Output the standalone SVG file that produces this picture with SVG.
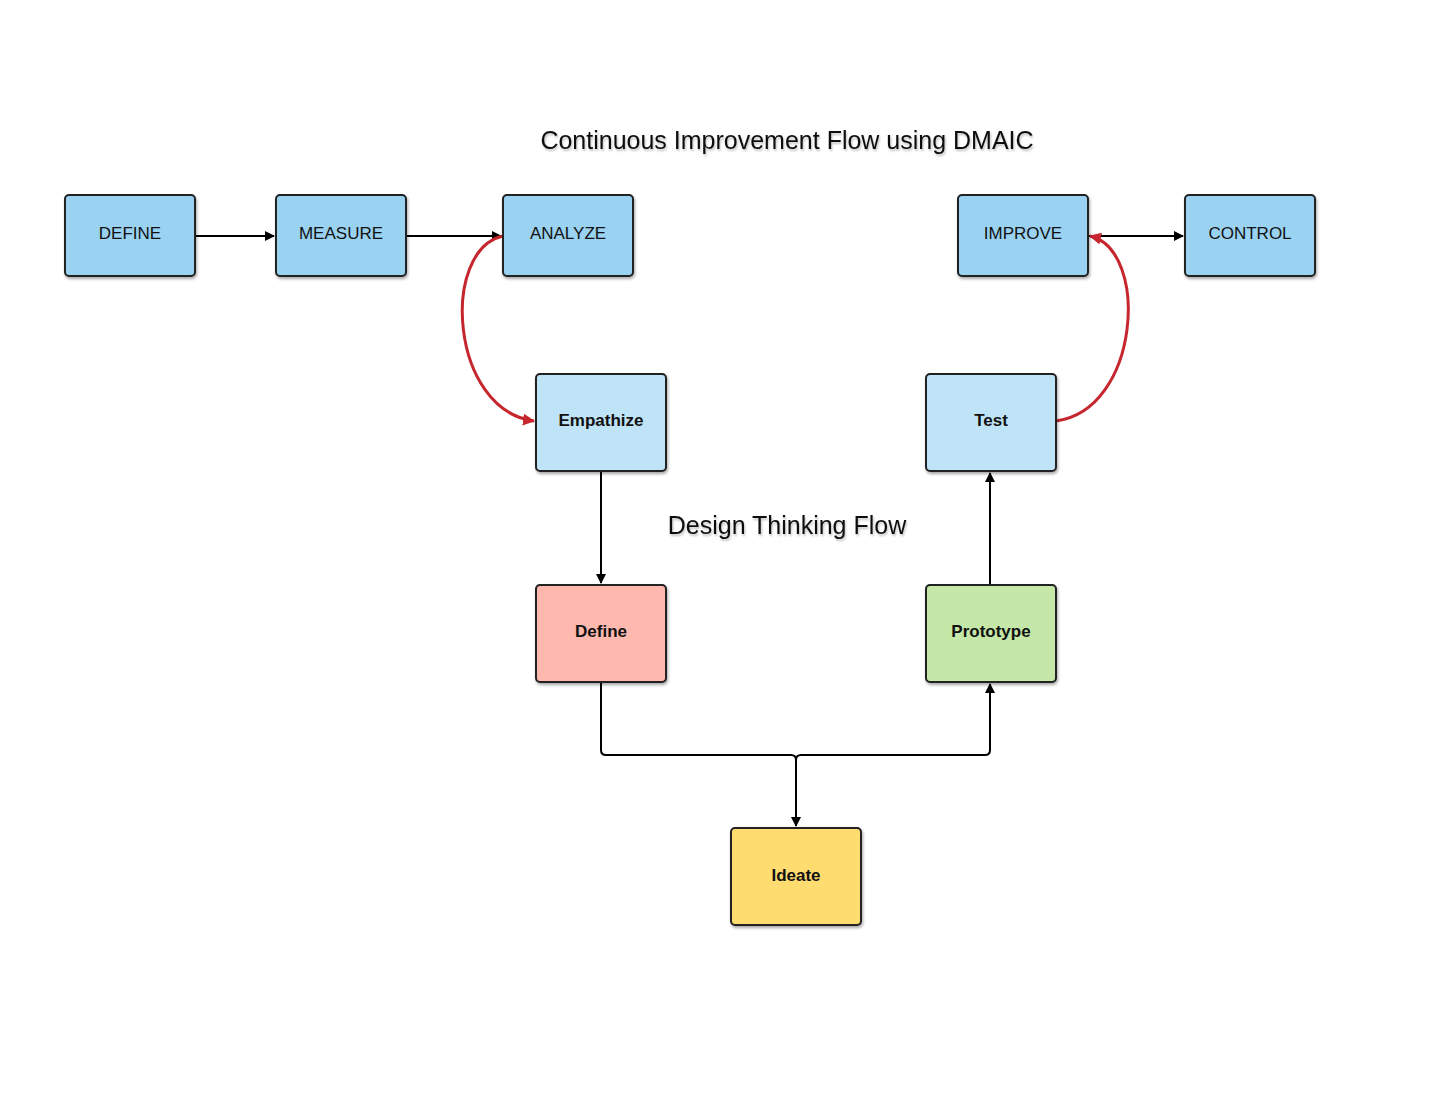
<svg xmlns="http://www.w3.org/2000/svg" width="1429" height="1104" viewBox="0 0 1429 1104">
<style>
.n{stroke:#222;stroke-width:2;filter:url(#sh)}
.t{font-family:"Liberation Sans",Arial,sans-serif;font-size:17px;fill:#111;text-anchor:middle;dominant-baseline:central}
.b{font-weight:bold}
.h{font-family:"Liberation Sans",Arial,sans-serif;font-size:25px;fill:#111;text-anchor:middle;filter:url(#ts)}
.c{fill:none;stroke:#000;stroke-width:2}
.r{fill:none;stroke:#c6262e;stroke-width:3}
</style>
<defs>
<filter id="sh" x="-10%" y="-10%" width="130%" height="130%"><feDropShadow dx="1" dy="2" stdDeviation="1.5" flood-opacity="0.35"/></filter>
<filter id="ts"><feDropShadow dx="1" dy="2" stdDeviation="1" flood-opacity="0.25"/></filter>
<marker id="a" markerWidth="10" markerHeight="10" refX="9" refY="5" orient="auto" markerUnits="userSpaceOnUse"><path d="M0,0 L10,5 L0,10 z" fill="#000"/></marker>
<marker id="ar" markerWidth="12" markerHeight="12" refX="11" refY="6" orient="auto" markerUnits="userSpaceOnUse"><path d="M0,0 L12,6 L0,12 z" fill="#c6262e"/></marker>
</defs>
<rect width="1429" height="1104" fill="#fff"/>
<text class="h" x="787" y="149">Continuous Improvement Flow using DMAIC</text>
<text class="h" x="787" y="534">Design Thinking Flow</text>
<g id="connectors">
<path class="c" d="M195,236 H274" marker-end="url(#a)"/>
<path class="c" d="M406,236 H501" marker-end="url(#a)"/>
<path class="c" d="M1088,236 H1183" marker-end="url(#a)"/>
<path class="c" d="M601,471 V583" marker-end="url(#a)"/>
<path class="c" d="M990,585 V473" marker-end="url(#a)"/>
<path class="c" d="M601,682 V750 Q601,755 606,755 H791 Q796,755 796,760 V826" marker-end="url(#a)"/>
<path class="c" d="M796,760 Q796,755 801,755 H985 Q990,755 990,750 V684" marker-end="url(#a)"/>
<path class="r" d="M503,236 C440,250 450,410 534,421" marker-end="url(#ar)"/>
<path class="r" d="M1056,421 C1140,410 1150,250 1090,236" marker-end="url(#ar)"/>
</g>
<g id="n-define"><rect class="n" x="65" y="195" width="130" height="81" rx="4" fill="#9ad2f2"/><text class="t" x="130" y="233">DEFINE</text></g>
<g id="n-measure"><rect class="n" x="276" y="195" width="130" height="81" rx="4" fill="#9ad2f2"/><text class="t" x="341" y="233">MEASURE</text></g>
<g id="n-analyze"><rect class="n" x="503" y="195" width="130" height="81" rx="4" fill="#9ad2f2"/><text class="t" x="568" y="233">ANALYZE</text></g>
<g id="n-improve"><rect class="n" x="958" y="195" width="130" height="81" rx="4" fill="#9ad2f2"/><text class="t" x="1023" y="233">IMPROVE</text></g>
<g id="n-control"><rect class="n" x="1185" y="195" width="130" height="81" rx="4" fill="#9ad2f2"/><text class="t" x="1250" y="233">CONTROL</text></g>
<g id="n-empathize"><rect class="n" x="536" y="374" width="130" height="97" rx="4" fill="#c0e4f7"/><text class="t b" x="601" y="420">Empathize</text></g>
<g id="n-test"><rect class="n" x="926" y="374" width="130" height="97" rx="4" fill="#c0e4f7"/><text class="t b" x="991" y="420">Test</text></g>
<g id="n-define2"><rect class="n" x="536" y="585" width="130" height="97" rx="4" fill="#ffb8ae"/><text class="t b" x="601" y="631">Define</text></g>
<g id="n-prototype"><rect class="n" x="926" y="585" width="130" height="97" rx="4" fill="#c5e8a8"/><text class="t b" x="991" y="631">Prototype</text></g>
<g id="n-ideate"><rect class="n" x="731" y="828" width="130" height="97" rx="4" fill="#fedc6f"/><text class="t b" x="796" y="875">Ideate</text></g>
</svg>
